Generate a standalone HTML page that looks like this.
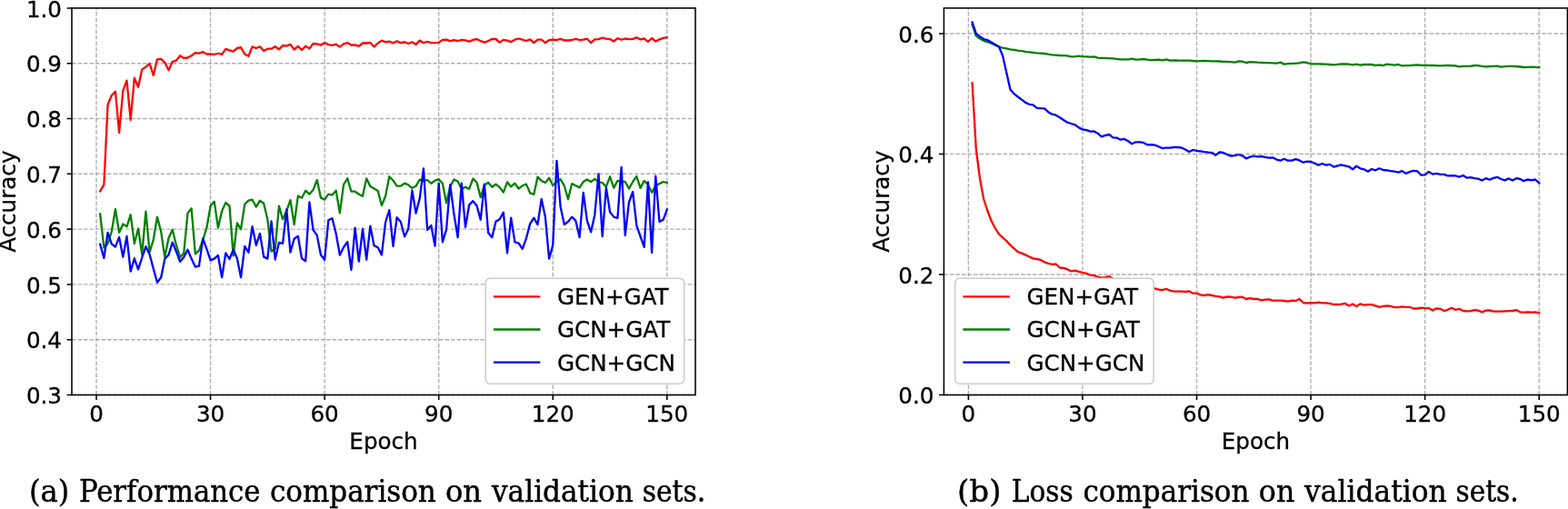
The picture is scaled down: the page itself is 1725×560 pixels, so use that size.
<!DOCTYPE html><html><head><meta charset="utf-8"><title>Figure</title><style>html,body{margin:0;padding:0;background:#fff;}svg{display:block;}</style></head><body>
<svg width="1725" height="560" viewBox="0 0 1725 560">
<rect width="1725" height="560" fill="#fff"/>
<clipPath id="c79"><rect x="79" y="8.9" width="686" height="425.6"/></clipPath>
<path d="M106 434.5V8.9M231.56 434.5V8.9M357.13 434.5V8.9M482.69 434.5V8.9M608.25 434.5V8.9M733.82 434.5V8.9M79 434.5H765M79 373.7H765M79 312.9H765M79 252.1H765M79 191.3H765M79 130.5H765M79 69.7H765M79 8.9H765" stroke="#b0b0b0" stroke-width="1.4" stroke-dasharray="4.55 1.965" fill="none"/>
<g clip-path="url(#c79)" fill="none" stroke-width="2.31" stroke-linejoin="round" stroke-linecap="square">
<polyline points="110.18,210.3 114.37,203.2 118.55,115.5 122.74,105 126.92,100.7 131.11,146 135.29,100 139.48,88.6 143.67,132 147.85,85.7 152.04,95.7 156.22,76.4 160.41,73.6 164.59,70 168.78,82.9 172.96,65.3 177.15,64.8 181.33,68.8 185.52,77.3 189.71,67.9 193.89,66.6 198.08,61.25 202.26,63.9 206.45,63.5 210.63,61.25 214.82,58.1 219,58.6 223.19,57.2 227.38,59.5 231.56,59.3 235.75,59.9 239.93,58.75 244.12,59.9 248.3,53.9 252.49,55.4 256.67,56.6 260.86,53 265.04,52.1 269.23,59.5 273.42,61.7 277.6,51.4 281.79,53 285.97,51.25 290.16,55.9 294.34,53.7 298.53,53.7 302.71,51.25 306.9,54.3 311.08,50.1 315.27,50.5 319.46,48.9 323.64,54.5 327.83,50.9 332.01,54.9 336.2,50.7 340.38,53.4 344.57,48 348.75,48.4 352.94,49.6 357.13,47.1 361.31,49.1 365.5,49.8 369.68,48.7 373.87,51.6 378.05,48.4 382.24,47.1 386.42,49.6 390.61,49.3 394.79,50.9 398.98,47.3 403.17,47.5 407.35,46.9 411.54,51.6 415.72,47.5 419.91,44.6 424.09,46.25 428.28,45.7 432.46,47.3 436.65,45.4 440.83,47.1 445.02,46.25 449.21,47.8 453.39,46.25 457.58,48.9 461.76,44.6 465.95,47.2 470.13,45.9 474.32,47.2 478.5,47.2 482.69,46.8 486.87,43.9 491.06,43.7 495.25,45.2 499.43,44.1 503.62,45 507.8,43.9 511.99,44.3 516.17,45.7 520.36,43.9 524.54,43 528.73,45.2 532.92,46.6 537.1,45.2 541.29,42.8 545.47,43 549.66,46.6 553.84,43.9 558.03,44.6 562.21,46.1 566.4,43.7 570.58,42.5 574.77,43.7 578.96,45 583.14,43.4 587.33,47 591.51,43.7 595.7,43.7 599.88,47.2 604.07,44.1 608.25,43.7 612.44,44 616.62,42.9 620.81,44.3 625,44.5 629.18,44 633.37,42.9 637.55,44 641.74,43.6 645.92,42.7 650.11,47 654.29,43.4 658.48,43.1 662.67,41.6 666.85,42.7 671.04,43.1 675.22,45.5 679.41,42.2 683.59,43.75 687.78,42.5 691.96,43.1 696.15,42.9 700.33,41.3 704.52,43.4 708.71,42.5 712.89,45.8 717.08,42 721.26,45.5 725.45,43.4 729.63,41.8 733.82,41.3" stroke="#ff0000"/>
<polyline points="110.18,235.4 114.37,272.6 118.55,268 122.74,255 126.92,230.2 131.11,255.7 135.29,246.5 139.48,249.4 143.67,236.3 147.85,268 152.04,251.5 156.22,280 160.41,232.7 164.59,277.3 168.78,263.8 172.96,238.7 177.15,254.7 181.33,283 185.52,261.7 189.71,252.7 193.89,269.7 198.08,283.2 202.26,278.4 206.45,234.6 210.63,229.3 214.82,279.3 219,275.7 223.19,264.1 227.38,250.7 231.56,226.6 235.75,221.8 239.93,250.7 244.12,232 248.3,223 252.49,226.6 256.67,281.3 260.86,245.3 265.04,252.2 269.23,224.6 273.42,220.7 277.6,219.7 281.79,227.6 285.97,220.7 290.16,223.7 294.34,241.3 298.53,276.7 302.71,273.8 306.9,226.6 311.08,241.3 315.27,231.9 319.46,220.1 323.64,247 327.83,215.6 332.01,217.6 336.2,209.7 340.38,213.7 344.57,208.8 348.75,198 352.94,217.6 357.13,219.6 361.31,213.7 365.5,214.6 369.68,209.7 373.87,234.3 378.05,203.2 382.24,196.3 386.42,210.7 390.61,210.7 394.79,213.7 398.98,215.8 403.17,196.3 407.35,205.1 411.54,207.6 415.72,210 419.91,226 424.09,215.8 428.28,194.2 432.46,198.5 436.65,204.6 440.83,204.6 445.02,201.7 449.21,203.3 453.39,206.8 457.58,204.8 461.76,197.6 465.95,199.2 470.13,198 474.32,201.7 478.5,198.6 482.69,197.2 486.87,201.7 491.06,223.3 495.25,205.2 499.43,197.4 503.62,199.6 507.8,207.9 511.99,205.8 516.17,207.9 520.36,196.6 524.54,200.7 528.73,217.1 532.92,203.7 537.1,200.7 541.29,205.8 545.47,202.7 549.66,206.1 553.84,211.6 558.03,200.3 562.21,205.4 566.4,201.7 570.58,207.5 574.77,204.3 578.96,202.6 583.14,212.4 587.33,213.9 591.51,194.6 595.7,198.9 599.88,201.1 604.07,195.7 608.25,203.9 612.44,200 616.62,197.1 620.81,204.3 625,219.3 629.18,202.1 633.37,204.3 637.55,206.4 641.74,200 645.92,197.4 650.11,200 654.29,196.8 658.48,200 662.67,201.1 666.85,205.4 671.04,194.3 675.22,206.6 679.41,198.9 683.59,200 687.78,200 691.96,207.5 696.15,200 700.33,194 704.52,206.9 708.71,198.9 712.89,203.2 717.08,211.8 721.26,204.7 725.45,202.1 729.63,200 733.82,201.1" stroke="#008000"/>
<polyline points="110.18,268.7 114.37,284 118.55,255.9 122.74,268.4 126.92,271.6 131.11,260.9 135.29,282.7 139.48,260 143.67,298.7 147.85,284.3 152.04,296.3 156.22,283.5 160.41,271.3 164.59,280 168.78,295.6 172.96,310.8 177.15,305.2 181.33,284.8 185.52,280.4 189.71,266.6 193.89,276.7 198.08,287.8 202.26,282.9 206.45,274.8 210.63,284.6 214.82,293.6 219,292.7 223.19,262.3 227.38,273.9 231.56,286.4 235.75,284.6 239.93,281 244.12,305.2 248.3,278.4 252.49,285 256.67,274.7 260.86,284.2 265.04,305.2 269.23,270.8 273.42,277.7 277.6,249.2 281.79,269.8 285.97,257 290.16,282.6 294.34,284.6 298.53,243.3 302.71,285.5 306.9,266.9 311.08,267.8 315.27,230.4 319.46,277.6 323.64,262.8 327.83,259.8 332.01,284.4 336.2,287.3 340.38,222.5 344.57,253 348.75,258.9 352.94,280.5 357.13,285.8 361.31,242.2 365.5,240.2 369.68,257 373.87,280.5 378.05,272 382.24,266.1 386.42,296.9 390.61,250.7 394.79,287.7 398.98,251.7 403.17,285.6 407.35,248.7 411.54,270.2 415.72,272.3 419.91,280.5 424.09,244.5 428.28,231.2 432.46,270.8 436.65,239.2 440.83,244 445.02,260.2 449.21,252 453.39,209.5 457.58,234.5 461.76,218.1 465.95,185.3 470.13,253 474.32,247.9 478.5,270.5 482.69,201.7 486.87,266.4 491.06,252.5 495.25,203.2 499.43,235.5 503.62,261.2 507.8,201.7 511.99,250 516.17,225.3 520.36,221.2 524.54,226.3 528.73,241.7 532.92,202.7 537.1,256.1 541.29,261.2 545.47,243.8 549.66,241.2 553.84,233.6 558.03,278.5 562.21,239.6 566.4,266.4 570.58,267.5 574.77,273.9 578.96,262.1 583.14,246.1 587.33,239.6 591.51,247.1 595.7,218.9 599.88,238.6 604.07,284.6 608.25,269.6 612.44,176.9 616.62,227.4 620.81,247.1 625,243.9 629.18,238.6 633.37,242.9 637.55,261.1 641.74,211.8 645.92,242.9 650.11,255.3 654.29,236.4 658.48,191.4 662.67,260 666.85,206.4 671.04,233.2 675.22,238.6 679.41,240 683.59,183.9 687.78,258.9 691.96,222.5 696.15,211.1 700.33,248.2 704.52,260 708.71,271.8 712.89,200.4 717.08,278.2 721.26,193.6 725.45,243.9 729.63,241.8 733.82,230.4" stroke="#0000ff"/>
</g>
<path d="M106 434.5v5.4M231.56 434.5v5.4M357.13 434.5v5.4M482.69 434.5v5.4M608.25 434.5v5.4M733.82 434.5v5.4M79 434.5h-5.4M79 373.7h-5.4M79 312.9h-5.4M79 252.1h-5.4M79 191.3h-5.4M79 130.5h-5.4M79 69.7h-5.4M79 8.9h-5.4" stroke="#000" stroke-width="1.55" fill="none"/>
<rect x="79" y="8.9" width="686" height="425.6" fill="none" stroke="#000" stroke-width="1.55" stroke-linecap="square"/>
<g font-family='"DejaVu Sans", "Liberation Sans", sans-serif' font-size="24.6" fill="#000" stroke="#000" stroke-width="0.3">
<text x="106" y="463.8" text-anchor="middle">0</text>
<text x="231.56" y="463.8" text-anchor="middle">30</text>
<text x="357.13" y="463.8" text-anchor="middle">60</text>
<text x="482.69" y="463.8" text-anchor="middle">90</text>
<text x="608.25" y="463.8" text-anchor="middle">120</text>
<text x="733.82" y="463.8" text-anchor="middle">150</text>
<text x="68" y="444.1" text-anchor="end">0.3</text>
<text x="68" y="383.3" text-anchor="end">0.4</text>
<text x="68" y="322.5" text-anchor="end">0.5</text>
<text x="68" y="261.7" text-anchor="end">0.6</text>
<text x="68" y="200.9" text-anchor="end">0.7</text>
<text x="68" y="140.1" text-anchor="end">0.8</text>
<text x="68" y="79.3" text-anchor="end">0.9</text>
<text x="68" y="18.5" text-anchor="end">1.0</text>
<text x="422" y="493.6" text-anchor="middle">Epoch</text>
<text transform="translate(17.3 221.7) rotate(-90)" text-anchor="middle">Accuracy</text>
</g>
<rect x="534.2" y="306.3" width="218.5" height="115.9" rx="4.9" fill="#fff" stroke="#cccccc" stroke-width="1.54"/>
<g font-family='"DejaVu Sans", "Liberation Sans", sans-serif' font-size="24.6" fill="#000" stroke="#000" stroke-width="0.3">
<path d="M544.04 326.3H593.24" stroke="#ff0000" stroke-width="2.31" stroke-linecap="square"/>
<text x="612.94" y="335.1">GEN+GAT</text>
<path d="M544.04 362.5H593.24" stroke="#008000" stroke-width="2.31" stroke-linecap="square"/>
<text x="612.94" y="371.3">GCN+GAT</text>
<path d="M544.04 398.7H593.24" stroke="#0000ff" stroke-width="2.31" stroke-linecap="square"/>
<text x="612.94" y="407.5">GCN+GCN</text>
</g>
<clipPath id="c1038"><rect x="1038.4" y="8.9" width="686" height="425.6"/></clipPath>
<path d="M1065.4 434.5V8.9M1190.96 434.5V8.9M1316.53 434.5V8.9M1442.09 434.5V8.9M1567.65 434.5V8.9M1693.22 434.5V8.9M1038.4 434.5H1724.4M1038.4 302H1724.4M1038.4 169.5H1724.4M1038.4 37H1724.4" stroke="#b0b0b0" stroke-width="1.4" stroke-dasharray="4.55 1.965" fill="none"/>
<g clip-path="url(#c1038)" fill="none" stroke-width="2.31" stroke-linejoin="round" stroke-linecap="square">
<polyline points="1069.58,91.4 1073.77,163.5 1077.95,196.2 1082.14,219 1086.32,231.5 1090.51,242.8 1094.69,250.8 1098.88,257.5 1103.07,261.3 1107.25,265 1111.44,269.6 1115.62,273.3 1119.81,277.1 1123.99,278.6 1128.18,280.4 1132.36,282.5 1136.55,284.4 1140.73,285 1144.92,285.9 1149.11,288.4 1153.29,289.8 1157.48,290.9 1161.66,290.5 1165.85,294.5 1170.03,294.8 1174.22,296.2 1178.4,298.4 1182.59,297.7 1186.78,298.8 1190.96,299.9 1195.15,300.9 1199.33,302.6 1203.52,303.1 1207.7,304.5 1211.89,305.6 1216.07,305.2 1220.26,304 1224.44,307 1228.63,308 1232.82,308.5 1237,308.5 1241.19,309.5 1245.37,310.5 1249.56,311.5 1253.74,312.5 1257.93,314 1262.11,315.5 1266.3,316.5 1270.48,317.3 1274.67,318.7 1278.86,319 1283.04,317.9 1287.23,319.7 1291.41,320.6 1295.6,320.6 1299.78,320.7 1303.97,321 1308.15,320.3 1312.34,322.7 1316.53,322.7 1320.71,324.3 1324.9,325 1329.08,324.1 1333.27,325 1337.45,325.9 1341.64,326.3 1345.82,327.7 1350.01,326.3 1354.19,326.7 1358.38,327.7 1362.57,327 1366.75,326.7 1370.94,329 1375.12,328.1 1379.31,329 1383.49,329 1387.68,330.3 1391.86,329.7 1396.05,329.4 1400.23,330.6 1404.42,330.6 1408.61,330.7 1412.79,331 1416.98,331.7 1421.16,330.7 1425.35,331 1429.53,329 1433.72,333 1437.9,333.7 1442.09,333 1446.27,333.4 1450.46,332.7 1454.65,333.3 1458.83,333.3 1463.02,333.9 1467.2,335 1471.39,335 1475.57,334.7 1479.76,333.8 1483.94,336.5 1488.13,334.5 1492.32,337.1 1496.5,334.3 1500.69,335.6 1504.87,335.2 1509.06,335.2 1513.24,336.3 1517.43,337.8 1521.61,336.9 1525.8,336.5 1529.98,336.9 1534.17,338.2 1538.36,338.2 1542.54,337.4 1546.73,337.8 1550.91,337.8 1555.1,339.5 1559.28,339.5 1563.47,338.7 1567.65,339.1 1571.84,339.1 1576.02,341.5 1580.21,339.4 1584.4,339.8 1588.58,342 1592.77,340.8 1596.95,338.7 1601.14,340.8 1605.32,339.8 1609.51,342 1613.69,342.4 1617.88,342.1 1622.07,341.1 1626.25,341.7 1630.44,343.3 1634.62,341.7 1638.81,341.3 1642.99,342.7 1647.18,342.7 1651.36,342.7 1655.55,342.4 1659.73,342.1 1663.92,342 1668.11,341.1 1672.29,343.3 1676.48,343.7 1680.66,343.4 1684.85,343.7 1689.03,343.4 1693.22,344.3" stroke="#ff0000"/>
<polyline points="1069.58,27 1073.77,39.4 1077.95,42.6 1082.14,44.8 1086.32,46.1 1090.51,47.6 1094.69,49.4 1098.88,51.5 1103.07,52.6 1107.25,53.3 1111.44,54.3 1115.62,54.9 1119.81,55.7 1123.99,56.2 1128.18,56.8 1132.36,57.3 1136.55,57.8 1140.73,58.3 1144.92,58.6 1149.11,59 1153.29,59.7 1157.48,60.3 1161.66,60.6 1165.85,61 1170.03,61.1 1174.22,61.3 1178.4,62.3 1182.59,62.1 1186.78,61.7 1190.96,62.1 1195.15,62.4 1199.33,62.7 1203.52,62.3 1207.7,63.7 1211.89,63.8 1216.07,63.9 1220.26,64.1 1224.44,64.3 1228.63,64.8 1232.82,65.3 1237,65.3 1241.19,65.3 1245.37,64.7 1249.56,65.7 1253.74,65.3 1257.93,65 1262.11,65.6 1266.3,66.1 1270.48,65.9 1274.67,65.7 1278.86,66.3 1283.04,65.4 1287.23,66.7 1291.41,66.3 1295.6,66.5 1299.78,66.6 1303.97,66.6 1308.15,66.6 1312.34,67 1316.53,67.4 1320.71,67.2 1324.9,67 1329.08,67.2 1333.27,67.4 1337.45,67.4 1341.64,67.5 1345.82,67.9 1350.01,67.9 1354.19,68.2 1358.38,68.6 1362.57,67.3 1366.75,67.7 1370.94,69 1375.12,68.1 1379.31,68.4 1383.49,68.7 1387.68,68.9 1391.86,69.1 1396.05,69.2 1400.23,69.4 1404.42,69.7 1408.61,68.6 1412.79,70.6 1416.98,70.1 1421.16,69.9 1425.35,69.7 1429.53,69.3 1433.72,68.3 1437.9,69 1442.09,70.3 1446.27,70.3 1450.46,70.3 1454.65,70.5 1458.83,70.6 1463.02,71 1467.2,71.4 1471.39,70.8 1475.57,70.3 1479.76,70.5 1483.94,70.7 1488.13,71.4 1492.32,70.7 1496.5,71.7 1500.69,71 1504.87,71 1509.06,71 1513.24,71.9 1517.43,71.4 1521.61,72.1 1525.8,70.7 1529.98,71.2 1534.17,71.7 1538.36,71 1542.54,72.3 1546.73,72.2 1550.91,72.1 1555.1,71.7 1559.28,71.3 1563.47,71.9 1567.65,71.6 1571.84,71.8 1576.02,72 1580.21,72.2 1584.4,72.4 1588.58,72.2 1592.77,72 1596.95,72.2 1601.14,72.4 1605.32,73.4 1609.51,72.8 1613.69,72.8 1617.88,72.8 1622.07,72 1626.25,72.2 1630.44,72.8 1634.62,73.3 1638.81,73 1642.99,72.8 1647.18,72.6 1651.36,73.7 1655.55,73.2 1659.73,72.8 1663.92,72.9 1668.11,73 1672.29,73.5 1676.48,74 1680.66,73.8 1684.85,73.7 1689.03,73.9 1693.22,74.1" stroke="#008000"/>
<polyline points="1069.58,24.4 1073.77,36.9 1077.95,40.1 1082.14,43 1086.32,44.1 1090.51,46.6 1094.69,49.1 1098.88,51.2 1103.07,61.2 1107.25,79.8 1111.44,98.4 1115.62,103.2 1119.81,106.5 1123.99,109.6 1128.18,112.9 1132.36,114.8 1136.55,115.4 1140.73,118.8 1144.92,119.2 1149.11,119.4 1153.29,123.3 1157.48,125.7 1161.66,126.7 1165.85,129.3 1170.03,132 1174.22,134.7 1178.4,136 1182.59,137.3 1186.78,140.4 1190.96,142.4 1195.15,143.1 1199.33,144.7 1203.52,144.4 1207.7,146.7 1211.89,150.3 1216.07,148.9 1220.26,148 1224.44,151.3 1228.63,151.6 1232.82,153.7 1237,152.9 1241.19,155.3 1245.37,158.3 1249.56,156.3 1253.74,156.4 1257.93,156.9 1262.11,159.3 1266.3,159.1 1270.48,159.6 1274.67,161.3 1278.86,163.1 1283.04,162.7 1287.23,162.7 1291.41,162 1295.6,162 1299.78,162.5 1303.97,164.5 1308.15,167.1 1312.34,164.9 1316.53,166 1320.71,166.4 1324.9,167.1 1329.08,167.7 1333.27,168 1337.45,170.7 1341.64,167.3 1345.82,168 1350.01,170 1354.19,171.6 1358.38,171.1 1362.57,170 1366.75,171.3 1370.94,174.3 1375.12,172.7 1379.31,171.7 1383.49,172.4 1387.68,172 1391.86,172.9 1396.05,173.7 1400.23,173.3 1404.42,175.6 1408.61,176.7 1412.79,174.7 1416.98,176.7 1421.16,176.7 1425.35,175.1 1429.53,176.4 1433.72,178.7 1437.9,177.7 1442.09,178 1446.27,179.6 1450.46,181.6 1454.65,180 1458.83,181.6 1463.02,180.9 1467.2,183.6 1471.39,182.3 1475.57,181.3 1479.76,182.3 1483.94,183.3 1488.13,186.3 1492.32,182.7 1496.5,185.3 1500.69,186.3 1504.87,188.7 1509.06,186 1513.24,187.3 1517.43,185.3 1521.61,187 1525.8,187.3 1529.98,188.1 1534.17,188.7 1538.36,189.7 1542.54,188.2 1546.73,190.9 1550.91,189 1555.1,187.9 1559.28,188.4 1563.47,192.7 1567.65,192.4 1571.84,188.9 1576.02,191.6 1580.21,190.9 1584.4,191.9 1588.58,191.9 1592.77,193.4 1596.95,193.2 1601.14,193.4 1605.32,194.6 1609.51,193 1613.69,195.6 1617.88,195.2 1622.07,196.2 1626.25,196.7 1630.44,198.4 1634.62,196.2 1638.81,197.7 1642.99,195.9 1647.18,194.8 1651.36,197 1655.55,198.4 1659.73,196.4 1663.92,198.6 1668.11,196.2 1672.29,197 1676.48,199.1 1680.66,197.5 1684.85,198.4 1689.03,197.5 1693.22,201.3" stroke="#0000ff"/>
</g>
<path d="M1065.4 434.5v5.4M1190.96 434.5v5.4M1316.53 434.5v5.4M1442.09 434.5v5.4M1567.65 434.5v5.4M1693.22 434.5v5.4M1038.4 434.5h-5.4M1038.4 302h-5.4M1038.4 169.5h-5.4M1038.4 37h-5.4" stroke="#000" stroke-width="1.55" fill="none"/>
<rect x="1038.4" y="8.9" width="686" height="425.6" fill="none" stroke="#000" stroke-width="1.55" stroke-linecap="square"/>
<g font-family='"DejaVu Sans", "Liberation Sans", sans-serif' font-size="24.6" fill="#000" stroke="#000" stroke-width="0.3">
<text x="1065.4" y="463.8" text-anchor="middle">0</text>
<text x="1190.96" y="463.8" text-anchor="middle">30</text>
<text x="1316.53" y="463.8" text-anchor="middle">60</text>
<text x="1442.09" y="463.8" text-anchor="middle">90</text>
<text x="1567.65" y="463.8" text-anchor="middle">120</text>
<text x="1693.22" y="463.8" text-anchor="middle">150</text>
<text x="1027.4" y="444.1" text-anchor="end">0.0</text>
<text x="1027.4" y="311.6" text-anchor="end">0.2</text>
<text x="1027.4" y="179.1" text-anchor="end">0.4</text>
<text x="1027.4" y="46.6" text-anchor="end">0.6</text>
<text x="1381.4" y="493.6" text-anchor="middle">Epoch</text>
<text transform="translate(977.7 221.7) rotate(-90)" text-anchor="middle">Accuracy</text>
</g>
<rect x="1050.7" y="306.3" width="218.5" height="115.9" rx="4.9" fill="#fff" stroke="#cccccc" stroke-width="1.54"/>
<g font-family='"DejaVu Sans", "Liberation Sans", sans-serif' font-size="24.6" fill="#000" stroke="#000" stroke-width="0.3">
<path d="M1060.54 326.3H1109.74" stroke="#ff0000" stroke-width="2.31" stroke-linecap="square"/>
<text x="1129.44" y="335.1">GEN+GAT</text>
<path d="M1060.54 362.5H1109.74" stroke="#008000" stroke-width="2.31" stroke-linecap="square"/>
<text x="1129.44" y="371.3">GCN+GAT</text>
<path d="M1060.54 398.7H1109.74" stroke="#0000ff" stroke-width="2.31" stroke-linecap="square"/>
<text x="1129.44" y="407.5">GCN+GCN</text>
</g>
<g font-family='"DejaVu Serif", "Liberation Serif", serif' font-size="34.4" font-stretch="condensed" fill="#000" stroke="#000" stroke-width="0.45">
<text x="31.92" y="552.1" textLength="44.33" lengthAdjust="spacingAndGlyphs">(a)</text>
<text x="87.01" y="552.1" textLength="199.48" lengthAdjust="spacingAndGlyphs">Performance</text>
<text x="297" y="552.1" textLength="182.74" lengthAdjust="spacingAndGlyphs">comparison</text>
<text x="489.96" y="552.1" textLength="40.02" lengthAdjust="spacingAndGlyphs">on</text>
<text x="541" y="552.1" textLength="155.92" lengthAdjust="spacingAndGlyphs">validation</text>
<text x="706.74" y="552.1" textLength="69.36" lengthAdjust="spacingAndGlyphs">sets.</text>
<text x="1053" y="552.1" textLength="48.46" lengthAdjust="spacingAndGlyphs">(b)</text>
<text x="1112.84" y="552.1" textLength="67.94" lengthAdjust="spacingAndGlyphs">Loss</text>
<text x="1191.4" y="552.1" textLength="183.15" lengthAdjust="spacingAndGlyphs">comparison</text>
<text x="1384.88" y="552.1" textLength="39.5" lengthAdjust="spacingAndGlyphs">on</text>
<text x="1435.1" y="552.1" textLength="156.62" lengthAdjust="spacingAndGlyphs">validation</text>
<text x="1601.54" y="552.1" textLength="69.05" lengthAdjust="spacingAndGlyphs">sets.</text>
</g>
</svg></body></html>
